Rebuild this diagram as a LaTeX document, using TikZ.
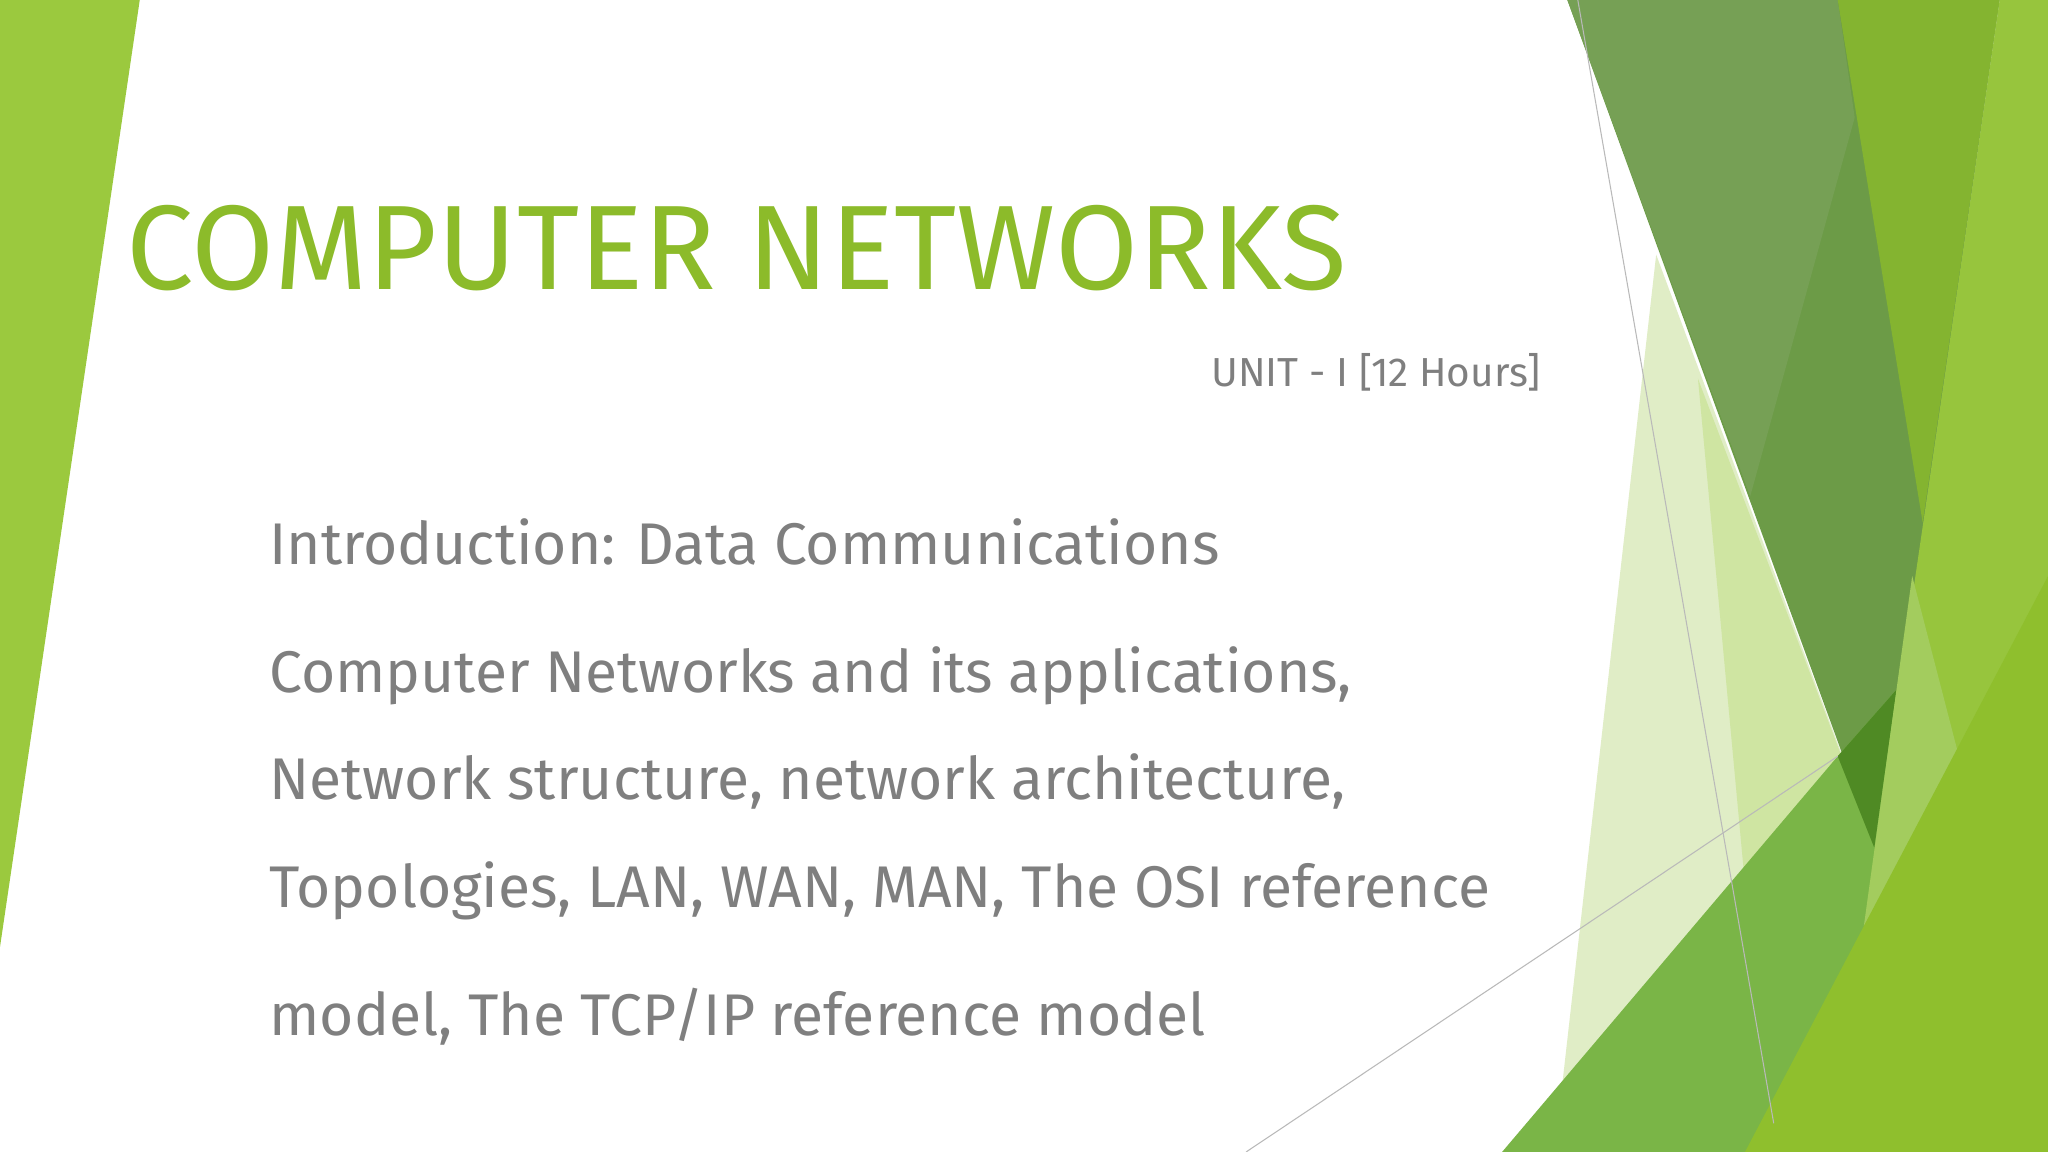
\documentclass[tikz,border=0pt]{standalone}
\usepackage{fontspec}
\setmainfont{Fira Sans}
\begin{document}
\begin{tikzpicture}[x=1pt,y=-1pt,
  txt/.style={inner sep=0pt,anchor=base west,text=textgray},
  thin/.style={draw=gray!55,line width=0.8pt}]
\definecolor{textgray}{HTML}{7F7F7F}
\definecolor{titlegreen}{HTML}{8CBB2A}
\definecolor{leftg}{HTML}{9BC93E}
\definecolor{pale}{HTML}{E0EDC6}
\definecolor{pale2}{HTML}{CFE5A2}
\definecolor{darkg}{HTML}{6C9B47}
\definecolor{darkg2}{HTML}{76A055}
\definecolor{olive}{HTML}{84B430}
\definecolor{lime}{HTML}{97C53D}
\definecolor{limel}{HTML}{A3CC5E}
\definecolor{medg}{HTML}{7AB547}
\definecolor{deepg}{HTML}{4F8A24}
\definecolor{botl}{HTML}{8FBF2D}
\useasboundingbox (0,0) rectangle (1568,882);
\fill[white] (0,0) rectangle (1568,882);
\fill[leftg] (0,0) -- (107,0) -- (0,725) -- cycle;
% right decoration
\fill[pale] (1268,195) -- (1437,650) -- (1195,840) -- cycle;
\fill[pale2] (1300,290) -- (1437,650) -- (1340,720) -- cycle;
\fill[darkg] (1200,0) -- (1531,0) -- (1437,650) -- cycle;
\fill[darkg2] (1200,0) -- (1407,0) -- (1420,90) -- (1340,380) -- cycle;
\fill[olive] (1407,0) -- (1531,0) -- (1472,400) -- cycle;
\fill[medg] (1150,882) -- (1407,579) -- (1452,528) -- (1480,882) -- cycle;
\fill[deepg] (1407,579) -- (1452,528) -- (1435,649) -- cycle;
\fill[lime] (1531,0) -- (1568,0) -- (1568,882) -- (1402,882) -- cycle;
\fill[limel] (1464,441) -- (1500,580) -- (1427,709) -- cycle;
\fill[botl] (1336,882) -- (1568,441) -- (1568,882) -- cycle;
\coordinate (l1a) at (1208,0);
\coordinate (l1b) at (1358,860);
\coordinate (l2a) at (954,882);
\coordinate (l2b) at (1407,579);
\draw[thin] (l1a) -- (l1b);
\draw[thin] (l2a) -- (l2b);
% text
\node[txt,text=titlegreen,font=\fontsize{92}{100}\selectfont] (title) at (97,222) {COMPUTER NETWORKS};
\node[txt,anchor=base east,font=\fontsize{31}{36}\selectfont] (unit) at (1180,296) {UNIT - I [12 Hours]};
\node[txt,font=\fontsize{45}{52}\selectfont] (b1) at (206,432) {Introduction: Data Communications};
\node[txt,font=\fontsize{45}{52}\selectfont] (b2) at (206,530) {Computer Networks and its applications,};
\node[txt,font=\fontsize{45}{52}\selectfont] (b3) at (206,612) {Network structure, network architecture,};
\node[txt,font=\fontsize{45}{52}\selectfont] (b4) at (206,695) {Topologies, LAN, WAN, MAN, The OSI reference};
\node[txt,font=\fontsize{45}{52}\selectfont] (b5) at (206,793) {model, The TCP/IP reference model};
\end{tikzpicture}
\end{document}
